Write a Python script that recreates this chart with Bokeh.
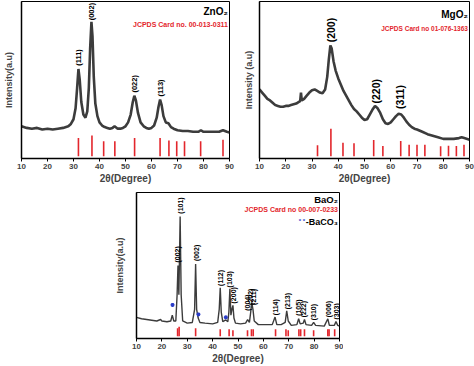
import numpy as np
from bokeh.plotting import figure
from bokeh.layouts import column, row
from bokeh.models import FixedTicker, Label, Spacer
from bokeh.core.properties import value
from bokeh.embed import file_html
from bokeh.resources import INLINE

FONT = "Liberation Sans"
RED = "#e3262c"
GREY = "#3c3c3c"
xticks = [10, 20, 30, 40, 50, 60, 70, 80, 90]

# ---------------- ZnO2 ----------------
zno_x = [10, 12, 14, 16, 18, 20, 22, 24, 26, 28, 29, 30, 30.8, 31.4, 31.9, 32.4, 33, 33.8, 34.6, 35.3,
         35.9, 36.4, 36.9, 37.3, 37.8, 38.4, 39.2, 40, 41, 42, 43, 44, 45, 45.8, 47, 48, 49, 50, 51, 52,
         52.8, 53.4, 54, 54.8, 55.8, 57, 58, 59, 60, 61, 62, 62.7, 63.3, 63.9, 64.6, 65.5, 66.5, 67.5,
         68.5, 70, 72, 74, 76, 78, 79, 80, 82, 84, 86, 87.5, 89, 90]
zno_y = [20.5, 19.5, 19, 19.5, 18.5, 19, 18.5, 19, 19.5, 20.5, 22, 25, 32, 45, 57, 50, 36, 28, 26, 30,
         45, 70, 87, 78, 52, 35, 27, 23, 21, 20, 19.5, 19, 19.5, 20.5, 19, 19, 19.5, 20.5, 23, 28,
         36, 40, 37, 29, 23, 20.5, 19.5, 19, 19.5, 21, 26, 33, 37.5, 34, 27, 23, 22.5, 20,
         19, 18, 17.5, 17.5, 17, 17, 18, 17, 17, 17, 17, 18, 17, 16.5]
zno_ref_pos = [31.9, 37.1, 41.6, 45.9, 53.5, 63.3, 66.7, 69.7, 72.7, 78.9, 87.5]
zno_ref_h = [13, 14.6, 11, 11, 13, 13, 11.5, 11, 11, 11, 12]
zno_hkl = ["(111)", "(002)", "(022)", "(113)"]
zno_hkl_x = [31.9, 36.9, 53.5, 63.3]
zno_hkl_y = [59, 88, 42, 39.5]

# ---------------- MgO2 ----------------
mgo_x = [10, 11, 12, 13, 14, 15, 16, 17, 18, 19, 20, 21, 22, 23, 24, 25, 25.5, 25.8, 26.1, 27, 28, 29,
         30, 31, 32, 33, 34, 35, 35.8, 36.4, 37, 37.5, 38.2, 39, 40, 41, 42, 43, 44, 45, 46, 47, 48,
         49, 50, 51, 52, 53, 54, 55, 56, 57, 58, 59, 60, 61, 62, 63, 64, 65, 66, 67, 68, 69, 70, 72,
         74, 76, 78, 80, 82, 84, 86, 87, 88, 90]
mgo_y = [44, 42, 40, 38, 37, 35.5, 34, 33.5, 33, 33, 33.5, 33.5, 34, 34.5, 35, 36, 36.5, 42, 37, 38, 40, 42,
         43.5, 44, 43, 42, 41.5, 44, 52, 63, 72, 70, 62, 56, 51, 47, 43, 40, 37, 34, 31.5, 30, 28,
         26, 24.5, 25, 28, 31, 33.5, 32, 29, 25, 22.5, 22, 23, 25, 27, 28.5, 28, 26, 23.5, 21.5, 20, 19, 18.5, 17,
         15.5, 14.5, 13.5, 12.5, 12.5, 12.5, 13, 13.5, 13, 12]
mgo_ref_pos = [32.1, 37.2, 41.8, 46.0, 53.5, 57.0, 63.8, 67.0, 70.0, 73.0, 79.0, 82.0, 85.0, 87.9]
mgo_ref_h = [8.5, 19, 10, 9.7, 11.8, 8, 11.2, 8.7, 8.7, 8.7, 7.8, 8.2, 8, 8.7]
mgo_hkl = ["(200)", "(220)", "(311)"]
mgo_hkl_x = [37.2, 54.3, 63.5]
mgo_hkl_y = [74, 35, 31.5]

# ---------------- BaO2 ----------------
bao_x = [10, 12, 14, 16, 18, 19.5, 20, 22, 23.5, 24.1, 24.7, 25.5, 26, 26.35, 26.7, 27.2, 27.6, 28.2, 30,
         32, 32.9, 33.3, 33.7, 34.3, 35, 37, 40, 42, 42.6, 43.0, 43.4, 44, 45.2, 46, 46.4, 46.8, 47.2,
         47.6, 48, 48.4, 49, 51, 53, 53.8, 54.5, 55, 55.4, 55.9, 56.4, 58, 61, 63.5, 64.6, 65.3, 67,
         68.6, 69.2, 69.8, 71, 73.2, 73.9, 74.5, 75.7, 76.2, 76.8, 79, 79.8, 80.6, 84, 85.4, 86, 88,
         88.6, 89.3, 90]
bao_y = [14.5, 13.5, 13, 12.5, 12, 13, 12, 11.5, 12, 16, 12, 12, 30, 50, 30, 83.5, 30, 12, 10.5,
         11, 20, 51, 20, 14, 11, 10.5, 10, 11, 20, 34.7, 18, 11.5, 12.7, 11.5, 18, 34, 16,
         20, 22.7, 14, 10.5, 10, 10.5, 13, 11, 18, 24.7, 20, 12, 9.5, 9.5, 9.5, 14.7, 9.5, 9.5,
         11, 19, 12, 9, 9.5, 13.5, 10, 10.5, 13, 9.5, 9, 11, 9, 8.5, 13.5, 9, 9,
         11.7, 9, 8.5]
bao_ref_pos = [26.2, 26.8, 33.3, 43.0, 46.5, 48.0, 53.75, 55.3, 56.0, 64.8, 68.9, 69.8, 74.0, 74.7,
               76.2, 79.8, 85.4, 85.9, 88.1]
bao_ref_h = [7, 8, 7, 6.3, 6.3, 5.6, 5.6, 6.3, 6.3, 6.3, 6.3, 5.6, 6.3, 6.3, 6.3, 5.6, 6.3, 6.3, 6.3]
bao_hkl = ["(002)", "(101)", "(002)", "(112)", "(103)", "(200)", "(004)", "(202)", "(211)", "(114)",
           "(213)", "(105)", "(222)", "(310)", "(006)", "(303)"]
bao_hkl_x = [26.2, 27.3, 33.5, 43.0, 46.7, 48.1, 53.8, 55.0, 56.1, 64.6, 69.5, 73.9, 75.9, 79.8, 85.5, 88.8]
bao_hkl_y = [52, 85.5, 53, 36, 35, 24, 19, 23, 23, 16, 20, 15.5, 14.5, 12.5, 14.5, 13]
baco3_x = [24.2, 34.4, 45.2]
baco3_y = [23, 16.5, 14.5]


def make_fig(width, height, ylabel, left, right, top, bottom, ystand):
    p = figure(width=width, height=height, x_range=(10, 90), y_range=(0, 100),
               output_backend="svg", toolbar_location=None,
               min_border_left=left, min_border_right=right,
               min_border_top=top, min_border_bottom=bottom)
    p.grid.visible = False
    p.outline_line_color = "black"
    p.outline_line_width = 1
    p.background_fill_color = "white"
    p.border_fill_color = "white"
    xa = p.xaxis[0]
    xa.ticker = FixedTicker(ticks=xticks)
    xa.axis_label = "2θ(Degree)"
    xa.axis_label_text_font = FONT
    xa.axis_label_text_font_style = "bold"
    xa.axis_label_text_font_size = "10px"
    xa.axis_label_standoff = 1
    xa.major_label_text_font = FONT
    xa.major_label_text_font_style = "bold"
    xa.major_label_text_font_size = "8px"
    xa.major_label_standoff = 2
    xa.major_tick_out = 3
    xa.major_tick_in = 0
    xa.minor_tick_line_color = None
    xa.axis_line_width = 1.5
    ya = p.yaxis[0]
    ya.ticker = FixedTicker(ticks=[])
    ya.major_tick_line_color = None
    ya.minor_tick_line_color = None
    ya.major_label_text_font_size = "0px"
    ya.axis_label = ylabel
    ya.axis_label_text_font = FONT
    ya.axis_label_text_font_style = "bold"
    ya.axis_label_text_font_size = "9px"
    ya.axis_label_standoff = ystand
    ya.axis_line_width = 1.5
    return p


def add_labels(p, xs, ys, texts, size):
    p.text(x=xs, y=ys, text=texts, angle=np.pi / 2, text_align="left", text_baseline="middle",
           text_font=value(FONT), text_font_style="bold", text_font_size=size, text_color="black")


def add_sticks(p, pos, h):
    p.segment(x0=pos, y0=[1.5] * len(pos), x1=pos, y1=h, line_color=RED, line_width=1.6)


def add_title(p, name, card, y1, y2, s1="10px", s2="7px"):
    p.add_layout(Label(x=89.4, y=y1, text=name, text_align="right", text_baseline="middle",
                       text_font=FONT, text_font_style="bold", text_font_size=s1, text_color="black"))
    p.add_layout(Label(x=89.4, y=y2, text=card, text_align="right", text_baseline="middle",
                       text_font=FONT, text_font_style="bold", text_font_size=s2, text_color=RED))


# Panel 1
p1 = make_fig(240, 186, "Intensity(a.u)", 18, 11, 1, 27, 8)
p1.line(zno_x, zno_y, line_color=GREY, line_width=2.6)
add_sticks(p1, zno_ref_pos, zno_ref_h)
add_labels(p1, zno_hkl_x, zno_hkl_y, zno_hkl, "7.5px")
add_title(p1, "ZnO₂", "JCPDS Card no. 00-013-0311", 93.5, 85.5, "10px", "7px")

# Panel 2
p2 = make_fig(234, 186, "Intensity (a.u)", 17, 5, 1, 28, 6)
p2.line(mgo_x, mgo_y, line_color=GREY, line_width=2.6)
add_sticks(p2, mgo_ref_pos, mgo_ref_h)
add_labels(p2, mgo_hkl_x, mgo_hkl_y, mgo_hkl, "10.5px")
add_title(p2, "MgO₂", "JCPDS Card no 01-076-1363", 91.5, 83, "10px", "6.5px")

# Panel 3
p3 = make_fig(232, 180, "Intensity(a.u)", 23, 4, 6, 24, 12)
p3.line(bao_x, bao_y, line_color=GREY, line_width=1.4)
add_sticks(p3, bao_ref_pos, bao_ref_h)
add_labels(p3, bao_hkl_x, bao_hkl_y, bao_hkl, "7px")
p3.scatter(baco3_x, baco3_y, marker="asterisk", size=4, line_color="#2a3cc8", line_width=1.2)
add_title(p3, "BaO₂", "JCPDS Card no 00-007-0233", 95.5, 88.5, "9.5px", "7px")
p3.add_layout(Label(x=89.4, y=79.5, text="-BaCO₃", text_align="right", text_baseline="middle",
                    text_font=FONT, text_font_style="bold", text_font_size="9px", text_color="black"))
p3.add_layout(Label(x=89.4, x_offset=-33, y=80.5, text="* *", text_align="right", text_baseline="middle",
                    text_font=FONT, text_font_style="bold", text_font_size="6px", text_color="#2a3cc8"))

layout = column(row(p1, p2), row(Spacer(width=111, height=180), p3))

with open("out.html", "w") as f:
    f.write(file_html(layout, INLINE))
